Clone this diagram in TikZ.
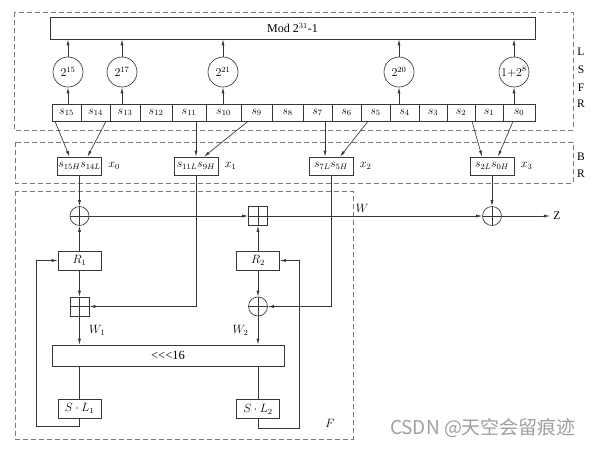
\documentclass[tikz,border=0pt]{standalone}
\usepackage{fontspec}
\setmainfont{Liberation Serif}
\newfontfamily\cjkfont{Noto Sans CJK SC}
\usetikzlibrary{arrows.meta,positioning}
\definecolor{cline}{RGB}{55,55,55}
\definecolor{cdash}{RGB}{120,120,120}
\tikzset{
  cell/.style={draw=cline, minimum height=17pt, inner sep=0pt},
  mult/.style={circle, draw=cline, minimum size=30pt, inner sep=0.5pt},
  brbox/.style={draw=cline, minimum width=44pt, minimum height=18pt, inner sep=0pt},
  regbox/.style={draw=cline, minimum width=43pt, minimum height=19pt, inner sep=0pt},
  xorop/.style={circle, draw=cline, minimum size=19pt, inner sep=0pt,
    path picture={\draw[cline] (path picture bounding box.north) -- (path picture bounding box.south)
      (path picture bounding box.west) -- (path picture bounding box.east);}},
  addop/.style={rectangle, draw=cline, minimum size=19pt, inner sep=0pt,
    path picture={\draw[cline] (path picture bounding box.north) -- (path picture bounding box.south)
      (path picture bounding box.west) -- (path picture bounding box.east);}},
  dashframe/.style={draw=cdash, dash pattern=on 5pt off 3pt, line width=0.7pt},
  flow/.style={draw=cline, -{Latex[length=6pt,width=3pt]}},
  wire/.style={draw=cline},
  side/.style={inner sep=0pt}
}

\begin{document}
\begin{tikzpicture}[x=1pt, y=-1pt, font=\fontsize{11.5}{13}\selectfont, line width=0.65pt]
\useasboundingbox (0,0) rectangle (594,448);

% frames
\draw[dashframe] (14,12) rectangle (573,130);
\draw[dashframe] (15,142) rectangle (573,183);
\draw[dashframe] (15,191) rectangle (353,439);

\foreach \t/\y in {L/52,S/70,F/88,R/104} \node[side] (lsfr\t) at (581,\y) {\t};
\foreach \t/\y in {B/157,R/174} \node[side] (br\t) at (581,\y) {\t};

% register cells
\foreach \i/\a/\b in {15/52/81,14/81/110,13/110/140,12/140/172,11/172/206,10/206/241,9/241/272,8/272/303,7/303/332,6/332/361,5/361/390,4/390/419,3/419/447,2/447/475,1/475/503,0/503/535}{
  \pgfmathsetmacro\w{\b-\a}
  \node[cell, minimum width=\w pt] (s\i) at ({(\a+\b)/2},112.5) {$s_{\i}$};
}

% feedback
\node[cell, minimum width=485pt, minimum height=22pt, font=\fontsize{12}{14}\selectfont] (mod) at (292.5,28) {Mod 2$^{31}$-1};
\node[mult] (m15) at (68,72) {$2^{15}$};
\node[mult] (m13) at (122,72) {$2^{17}$};
\node[mult] (m10) at (223,72) {$2^{21}$};
\node[mult] (m4) at (399,72) {$2^{20}$};
\node[mult] (m0) at (514,72) {$1{+}2^{8}$};
\foreach \m in {15,13,10,4,0}{
  \draw[flow] (m\m |- s\m.north) -- (m\m);
  \draw[flow] (m\m) -- (m\m |- mod.south);
}

% bit reorganization
\node[brbox] (b0) at (79.5,166) {$s_{15H}s_{14L}$};
\node[brbox] (b1) at (196,166) {$s_{11L}s_{9H}$};
\node[brbox] (b2) at (331,166) {$s_{7L}s_{5H}$};
\node[brbox] (b3) at (492,166) {$s_{2L}s_{0H}$};
\node[right=3pt of b0] (x0) {$x_0$};
\node[right=3pt of b1] (x1) {$x_1$};
\node[right=3pt of b2] (x2) {$x_2$};
\node[right=3pt of b3] (x3) {$x_3$};

\draw[flow] ([xshift=-11.5pt]s15.south) -- ([xshift=-10pt]b0.north);
\draw[flow] ([xshift=10.5pt]s14.south) -- ([xshift=8pt]b0.north);
\draw[flow] (b1.north |- s11.south) -- (b1.north);
\draw[flow] ([xshift=-8.5pt]s9.south) -- ([xshift=8pt]b1.north);
\coordinate (c7) at ([xshift=-6pt]b2.north);
\draw[flow] (c7 |- s7.south) -- (c7);
\draw[flow] ([xshift=-7.5pt]s5.south) -- ([xshift=9pt]b2.north);
\draw[flow] ([xshift=11pt]s2.south) -- ([xshift=-10pt]b3.north);
\draw[flow] ([xshift=-6pt]s0.south) -- ([xshift=6pt]b3.north);

% nonlinear function F
\node[xorop] (xa) at (79.5,216) {};
\node[addop] (pa) at (258,216) {};
\node[xorop] (xz) at (492,216) {};
\node (z) at (557,216) {Z};
\node[regbox] (r1) at (79.5,260.5) {$R_1$};
\node[regbox] (r2) at (258,260.5) {$R_2$};
\node[addop] (pb) at (79.5,306.5) {};
\node[xorop] (xb) at (258,306.5) {};
\node[cell, minimum width=232pt, minimum height=21pt, font=\fontsize{12.5}{14}\selectfont] (rot) at (168,355.5) {{<}{<}{<}16};
\node[regbox] (sl1) at (79.5,408.5) {$S\cdot L_1$};
\node[regbox] (sl2) at (258,409) {$S\cdot L_2$};
\node (flbl) at (330,423) {$F$};

\draw[flow] (b0) -- (xa);
\draw[flow] (xa) -- (pa);
\draw[flow] (pa) -- node[above, pos=0.44] (wlbl) {$W$} (xz);
\draw[flow] (xz) -- (z);
\draw[flow] (b3) -- (xz);
\draw[flow] (r1) -- (xa);
\draw[flow] (r2) -- (pa);
\draw[flow] (r1) -- (pb);
\draw[flow] (r2) -- (xb);
\draw[flow] (b1.south) |- (pb.east);
\draw[flow] (b2.south) |- (xb.east);
\draw[flow] (pb) -- node[right=6pt] (w1) {$W_1$} (pb |- rot.north);
\draw[flow] (xb) -- node[left=6pt] (w2) {$W_2$} (xb |- rot.north);
\draw[wire] (sl1 |- rot.south) -- (sl1);
\draw[wire] (sl2 |- rot.south) -- (sl2);
\coordinate (fb1) at (36,426);
\coordinate (fb2) at (299,428);
\draw[flow] (sl1.south) |- (fb1) |- (r1.west);
\draw[flow] (sl2.south) |- (fb2) |- (r2.east);

\node[text=gray!75, font=\cjkfont\fontsize{19}{21}\selectfont] (mark) at (483,428) {CSDN @天空会留痕迹};

\end{tikzpicture}
\end{document}
